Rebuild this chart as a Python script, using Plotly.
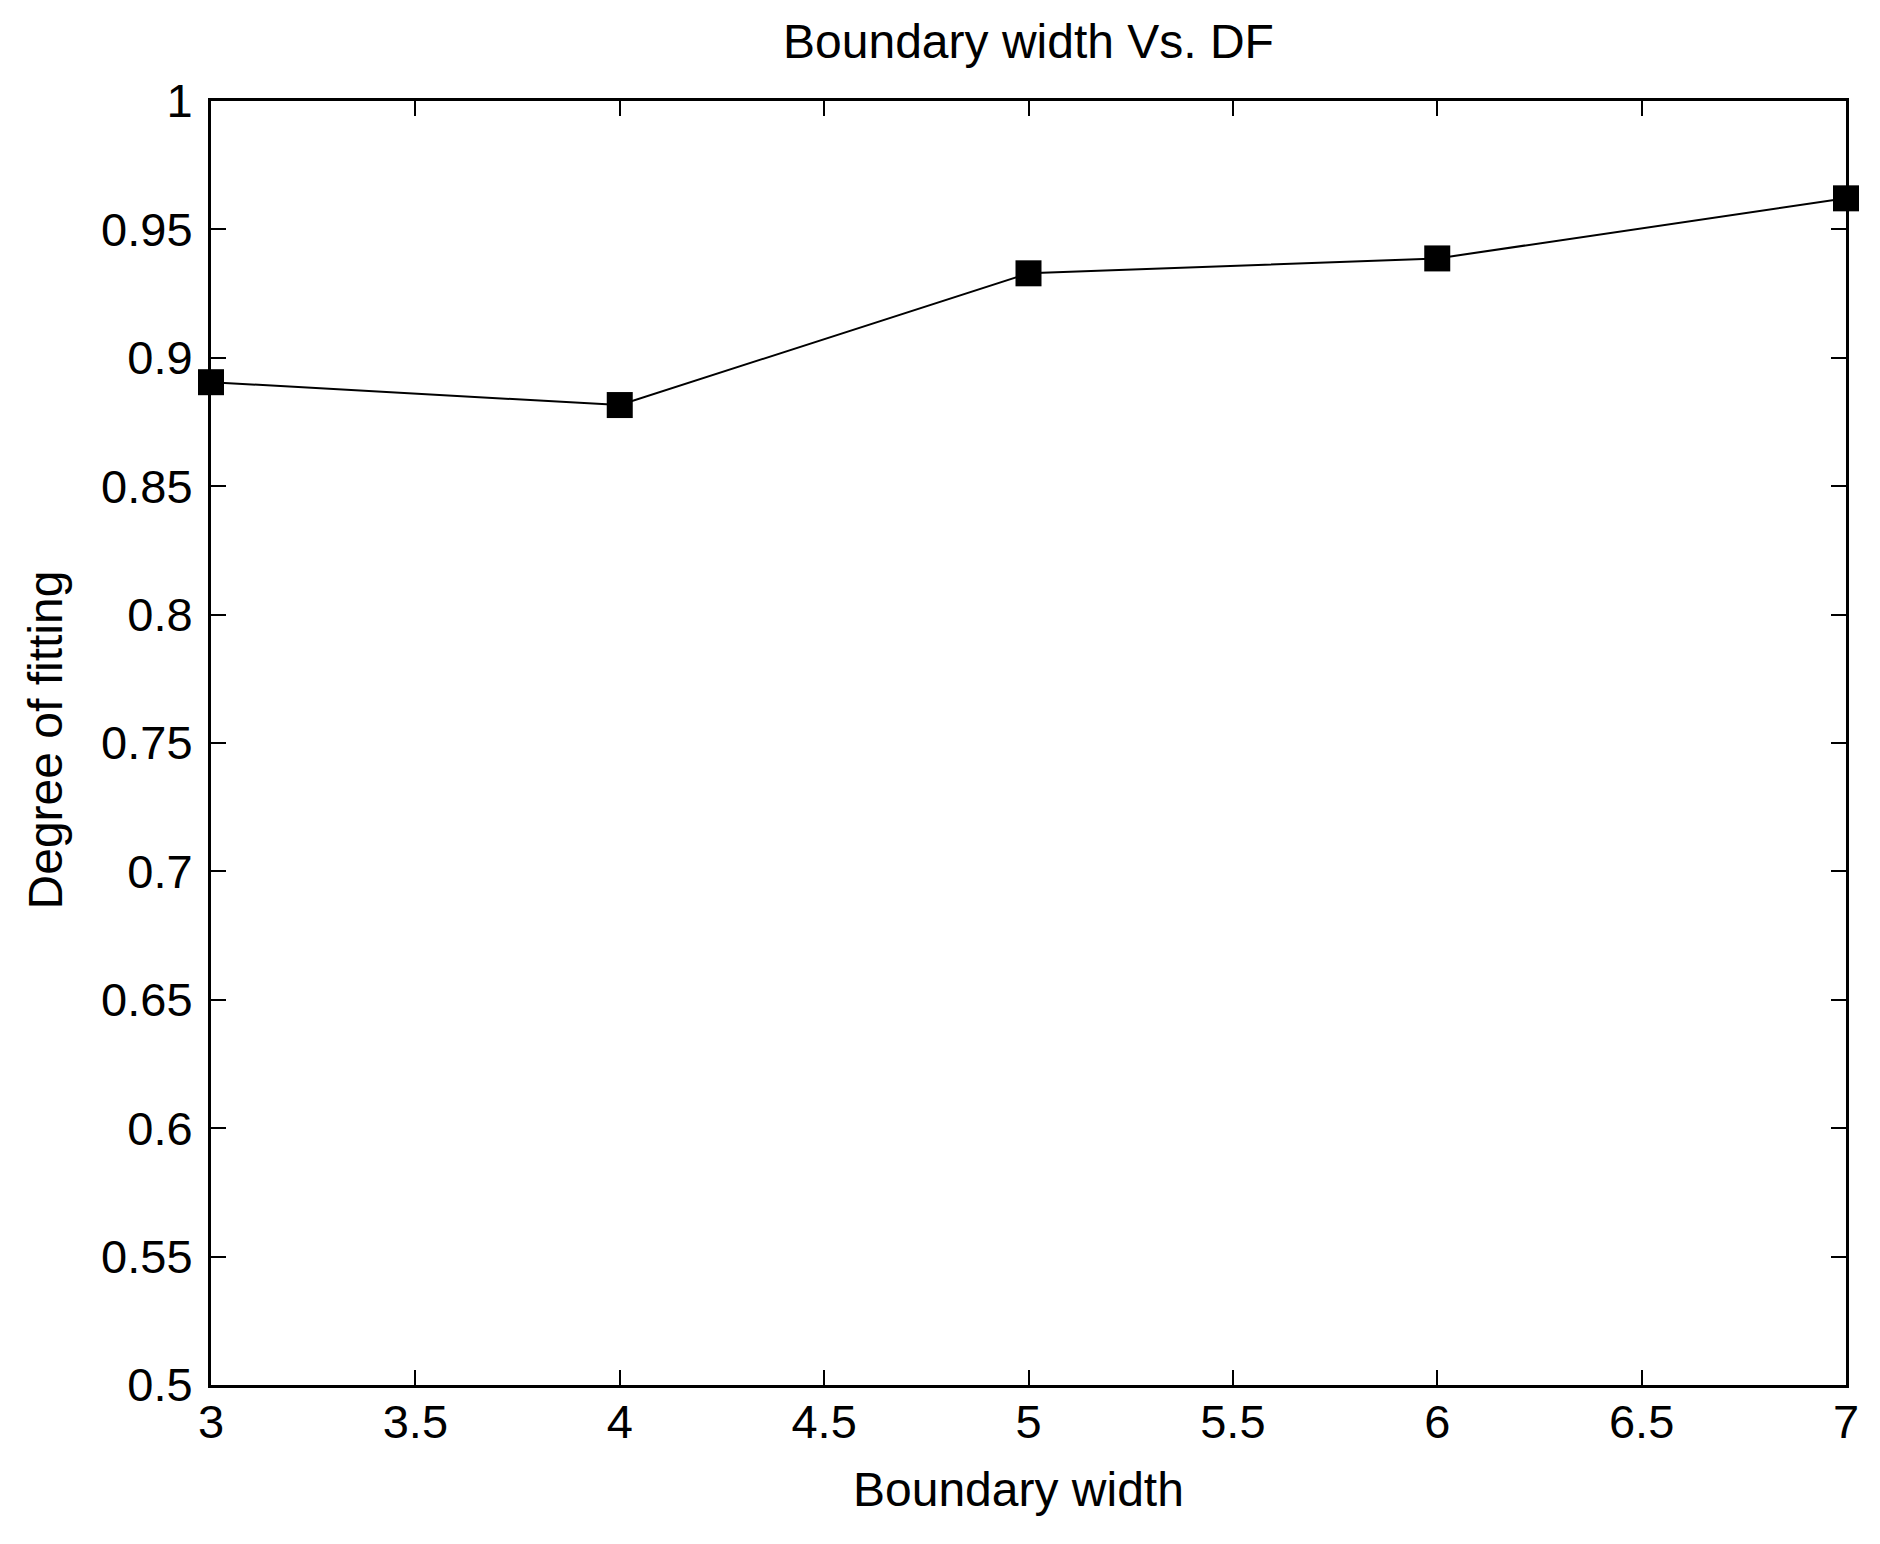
import plotly.graph_objects as go

# values
boundary_width = [3, 4, 5, 6, 7]
degree_of_fitting = [0.8905, 0.8816, 0.9329, 0.9387, 0.9621]

x_ticks = [3, 3.5, 4, 4.5, 5, 5.5, 6, 6.5, 7]
x_tick_text = ["3", "3.5", "4", "4.5", "5", "5.5", "6", "6.5", "7"]
y_ticks = [0.5, 0.55, 0.6, 0.65, 0.7, 0.75, 0.8, 0.85, 0.9, 0.95, 1]
y_tick_text = ["0.5", "0.55", "0.6", "0.65", "0.7", "0.75", "0.8", "0.85", "0.9", "0.95", "1"]

fig = go.Figure()
fig.add_trace(go.Scatter(
    x=boundary_width,
    y=degree_of_fitting,
    mode="lines+markers",
    line=dict(color="black", width=2),
    marker=dict(symbol="square", size=26, color="black"),
    cliponaxis=False,
    showlegend=False,
))

axis_style = dict(
    showline=True, linecolor="black", linewidth=3, mirror="ticks",
    ticks="inside", ticklen=15, tickwidth=2, tickcolor="black",
    showgrid=False, zeroline=False,
    tickfont=dict(size=47, color="black"),
)

# the page body adds 8px on the top and left, margins make up for it
fig.update_layout(
    width=1880, height=1544,
    margin=dict(l=203, r=42, t=93, b=167),
    paper_bgcolor="white", plot_bgcolor="white",
    font=dict(family="Liberation Sans, Arial, sans-serif", color="black"),
    title=dict(text="Boundary width Vs. DF", x=0.5, xref="paper",
               y=1 - 33 / 1544, yref="container", yanchor="middle",
               font=dict(size=48)),
    xaxis=dict(range=[3, 7], tickvals=x_ticks, ticktext=x_tick_text,
               ticklabelstandoff=-6, **axis_style),
    yaxis=dict(range=[0.5, 1], tickvals=y_ticks, ticktext=y_tick_text,
               ticklabelstandoff=6, **axis_style),
)

# axis titles as annotations so they sit where the reference has them
fig.add_annotation(text="Boundary width", xref="paper", yref="paper",
                   x=0.5, y=0, yshift=-104, xshift=-10, showarrow=False,
                   xanchor="center", yanchor="middle", font=dict(size=48))
fig.add_annotation(text="Degree of fitting", xref="paper", yref="paper",
                   x=0, y=0.502, xshift=-166, textangle=-90, showarrow=False,
                   xanchor="center", yanchor="middle", font=dict(size=48))

fig.write_html("out.html")
